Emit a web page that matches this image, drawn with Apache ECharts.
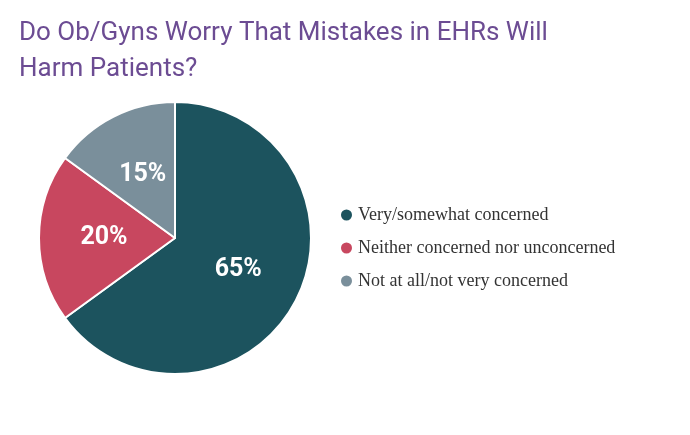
<!DOCTYPE html>
<html>
<head>
<meta charset="utf-8">
<script src="https://cdn.jsdelivr.net/npm/echarts@6/dist/echarts.min.js"></script>
<style>html,body{margin:0;background:#fff}#main{width:690px;height:435px}</style>
</head>
<body>
<div id="main"></div>
<script>
// 数据
const categories = ['Very/somewhat concerned', 'Neither concerned nor unconcerned', 'Not at all/not very concerned'];
const values = [65, 20, 15];
const colors = ['#1c535e', '#c8475f', '#7a8f9b'];

const chart = echarts.init(document.getElementById('main'));
const option = {
    title: {
        text: 'Do Ob/Gyns Worry That Mistakes in EHRs Will\nHarm Patients?',
        left: 14, top: 10,
        textStyle: { color: '#6c4c93', fontFamily: 'Roboto', fontWeight: 'normal', fontSize: 26, lineHeight: 36 }
    },
    legend: {
        orient: 'vertical', left: 334, top: 201,
        icon: 'circle', itemWidth: 13, itemHeight: 13, itemGap: 15,
        textStyle: { fontFamily: 'Liberation Sans Narrow', fontSize: 18, color: '#333' }
    },
    series: [{
        type: 'pie',
        center: [175, 238], radius: [0, 136],
        startAngle: 90, clockwise: true,
        color: colors,
        itemStyle: { borderColor: '#fff', borderWidth: 2 },
        label: {
            position: 'inner', formatter: '{c}%', color: '#fff',
            fontFamily: 'Roboto', fontWeight: 'bold', fontSize: 25
        },
        labelLine: { show: false },
        emphasis: { disabled: true },
        data: categories.map((name, i) => ({ name, value: values[i] }))
    }]
};
chart.setOption(option);
</script>
</body>
</html>
